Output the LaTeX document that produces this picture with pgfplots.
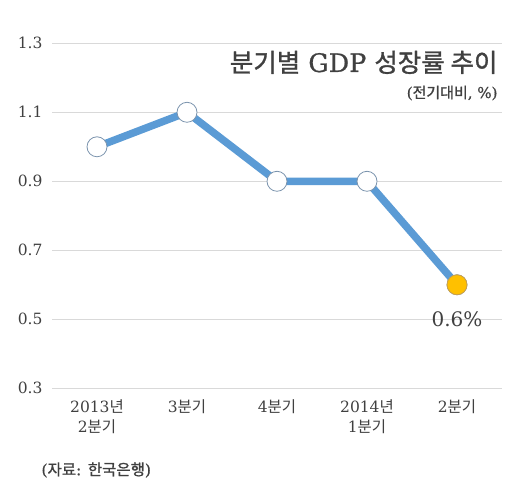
\documentclass[border=0pt]{standalone}
\usepackage{pgfplots}
\pgfplotsset{compat=1.18}
\usepackage{fontspec}
\setmainfont{DejaVu Serif}
\newfontfamily\kr{Noto Sans CJK KR}
\newfontfamily\krm[FakeBold=1.2]{Noto Sans CJK KR}
\newfontfamily\serm[FakeBold=0.8]{DejaVu Serif}
\definecolor{lineblue}{HTML}{5B9BD5}
\definecolor{edgeblue}{HTML}{7A93AD}
\definecolor{gold}{HTML}{FFC000}
\definecolor{goldedge}{HTML}{C9A04A}
\definecolor{txt}{HTML}{404040}
\definecolor{gridc}{HTML}{D9D9D9}
\begin{document}
\begin{tikzpicture}[x=1pt,y=1pt]
\useasboundingbox (0,0) rectangle (527,502);
\begin{axis}[
  at={(52pt,113.7pt)}, anchor=south west,
  scale only axis, width=450pt, height=345pt,
  xmin=-0.5, xmax=4.5, ymin=0.3, ymax=1.3,
  ytick={0.3,0.5,0.7,0.9,1.1,1.3},
  yticklabel style={/pgf/number format/fixed, /pgf/number format/precision=1, /pgf/number format/fixed zerofill, xshift=-6pt, font=\fontsize{15.5}{18}\selectfont, text=txt},
  /pgf/number format/assume math mode=true,
  xtick={0,1,2,3,4},
  xticklabels={{2013{\kr 년}\\2{\kr 분기}},{3{\kr 분기}},{4{\kr 분기}},{2014{\kr 년}\\1{\kr 분기}},{2{\kr 분기}}},
  xticklabel style={align=center, anchor=north, yshift=-8pt, font=\fontsize{15.5}{20}\selectfont, text=txt},
  axis line style={draw=none},
  major tick style={draw=none},
  ymajorgrids, grid style={gridc, line width=0.8pt},
  clip=false,
]
\addplot [lineblue, line width=7.5pt, mark=*, mark size=10pt, mark options={fill=white, draw=edgeblue, line width=0.8pt}]
  coordinates {(0,1.0) (1,1.1) (2,0.9) (3,0.9) (4,0.6)};
\addplot [only marks, mark=*, mark size=10pt, mark options={fill=gold, draw=goldedge, line width=0.8pt}]
  coordinates {(4,0.6)};
\node[text=txt, font=\fontsize{20}{24}\selectfont] at (axis cs:4,0.5) {0.6\%};
\end{axis}
\node[anchor=base east, text=txt, font=\fontsize{25.5}{28}\selectfont] at (501,430) {{\krm 분기별} {\serm GDP} {\krm 성장률 추이}};
\node[anchor=east, text=txt, font=\fontsize{15}{17}\selectfont] at (501,409) {{\serm(}{\krm 전기대비}{\serm, \%)}};
\node[anchor=west, text=txt, font=\fontsize{15.5}{17}\selectfont] at (38,32) {{\serm(}{\krm 자료}{\serm: }{\krm 한국은행}{\serm)}};
\end{tikzpicture}
\end{document}
